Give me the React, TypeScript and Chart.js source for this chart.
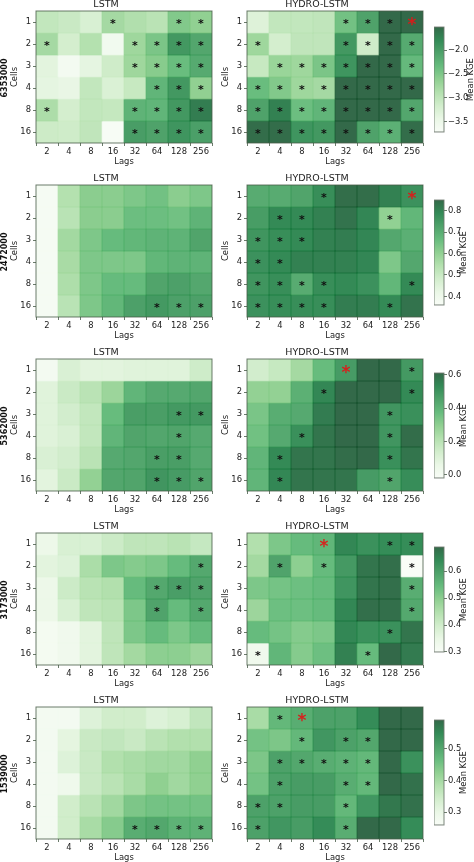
import React, { useEffect, useRef } from "react";
import { Chart, registerables } from "chart.js";

Chart.register(...registerables);

const lags = ["2", "4", "8", "16", "32", "64", "128", "256"];
const cells = ["1", "2", "3", "4", "8", "16"];

const stations = ["6353000", "2472000", "5362000", "3173000", "1539000"];
const metricLabels = ["Mean KGE", "Mean KGE", "Mean KGE", "Mean KGE", "Mean KGE"];
const colorMins = [-3.71, 0.36, -0.02, 0.3, 0.26];
const colorMaxs = [-1.52, 0.85, 0.61, 0.69, 0.59];
const colorTicks = [
  [-3.5, -3.0, -2.5, -2.0],
  [0.4, 0.5, 0.6, 0.7, 0.8],
  [0.0, 0.2, 0.4, 0.6],
  [0.3, 0.4, 0.5, 0.6],
  [0.3, 0.4, 0.5],
];

const lstm6353000 = [
  [-3.12, -3.18, -3.32, -2.88, -2.97, -3.05, -2.62, -2.72],
  [-2.88, -3.27, -2.99, -3.62, -2.83, -2.57, -2.0, -2.18],
  [-3.43, -3.64, -3.45, -3.23, -2.83, -2.66, -2.44, -2.22],
  [-3.45, -3.49, -3.12, -3.34, -3.16, -2.35, -2.0, -2.72],
  [-2.94, -3.27, -3.12, -3.14, -2.33, -2.35, -2.0, -1.7],
  [-3.21, -3.23, -3.1, -3.69, -2.07, -2.13, -1.96, -2.09],
];
const hydro6353000 = [
  [-3.38, -3.12, -3.12, -3.1, -2.51, -2.13, -1.52, -1.52],
  [-2.83, -3.27, -3.1, -3.1, -2.0, -3.23, -1.52, -2.22],
  [-3.16, -2.79, -2.83, -2.57, -1.96, -1.52, -1.52, -2.4],
  [-2.44, -2.62, -2.83, -2.88, -1.52, -1.52, -1.52, -1.52],
  [-2.13, -1.74, -2.46, -2.35, -1.52, -1.52, -1.52, -2.18],
  [-1.56, -1.56, -1.96, -2.0, -1.52, -2.13, -2.29, -1.56],
];
const lstm2472000 = [
  [0.37, 0.52, 0.59, 0.59, 0.61, 0.63, 0.59, 0.61],
  [0.37, 0.51, 0.59, 0.59, 0.64, 0.64, 0.63, 0.67],
  [0.37, 0.55, 0.61, 0.65, 0.66, 0.67, 0.67, 0.71],
  [0.37, 0.54, 0.61, 0.61, 0.61, 0.66, 0.67, 0.67],
  [0.37, 0.53, 0.61, 0.65, 0.65, 0.71, 0.72, 0.7],
  [0.37, 0.51, 0.61, 0.66, 0.72, 0.74, 0.72, 0.72],
];
const hydro2472000 = [
  [0.69, 0.69, 0.71, 0.77, 0.84, 0.84, 0.8, 0.76],
  [0.73, 0.78, 0.78, 0.8, 0.83, 0.79, 0.58, 0.66],
  [0.75, 0.77, 0.78, 0.8, 0.81, 0.79, 0.7, 0.68],
  [0.76, 0.78, 0.8, 0.8, 0.8, 0.79, 0.61, 0.7],
  [0.75, 0.77, 0.69, 0.77, 0.78, 0.76, 0.66, 0.78],
  [0.76, 0.77, 0.77, 0.77, 0.81, 0.81, 0.78, 0.83],
];
const lstm5362000 = [
  [0.0, 0.09, 0.06, 0.06, 0.07, 0.07, 0.07, 0.12],
  [0.07, 0.13, 0.17, 0.24, 0.37, 0.41, 0.41, 0.42],
  [0.07, 0.11, 0.15, 0.35, 0.45, 0.45, 0.47, 0.47],
  [0.07, 0.09, 0.15, 0.37, 0.43, 0.42, 0.43, 0.41],
  [0.09, 0.11, 0.17, 0.41, 0.42, 0.45, 0.45, 0.41],
  [0.06, 0.13, 0.26, 0.42, 0.43, 0.48, 0.46, 0.43],
];
const hydro5362000 = [
  [0.11, 0.14, 0.22, 0.35, 0.46, 0.61, 0.61, 0.47],
  [0.26, 0.26, 0.39, 0.53, 0.61, 0.61, 0.61, 0.52],
  [0.31, 0.4, 0.41, 0.56, 0.61, 0.61, 0.48, 0.5],
  [0.33, 0.41, 0.5, 0.58, 0.61, 0.61, 0.48, 0.6],
  [0.37, 0.52, 0.58, 0.58, 0.6, 0.61, 0.5, 0.58],
  [0.37, 0.53, 0.58, 0.58, 0.58, 0.46, 0.43, 0.51],
];
const lstm3173000 = [
  [0.33, 0.37, 0.37, 0.39, 0.41, 0.41, 0.42, 0.4],
  [0.35, 0.36, 0.44, 0.5, 0.49, 0.5, 0.53, 0.57],
  [0.33, 0.39, 0.42, 0.43, 0.53, 0.57, 0.59, 0.58],
  [0.33, 0.37, 0.41, 0.42, 0.5, 0.58, 0.53, 0.57],
  [0.31, 0.32, 0.35, 0.41, 0.5, 0.53, 0.5, 0.53],
  [0.31, 0.32, 0.35, 0.41, 0.45, 0.48, 0.48, 0.46],
];
const hydro3173000 = [
  [0.43, 0.5, 0.53, 0.54, 0.64, 0.62, 0.63, 0.63],
  [0.45, 0.58, 0.48, 0.53, 0.6, 0.67, 0.68, 0.3],
  [0.5, 0.51, 0.52, 0.53, 0.61, 0.67, 0.68, 0.56],
  [0.46, 0.52, 0.52, 0.53, 0.64, 0.68, 0.68, 0.57],
  [0.53, 0.51, 0.49, 0.5, 0.64, 0.62, 0.62, 0.67],
  [0.32, 0.54, 0.49, 0.52, 0.65, 0.53, 0.69, 0.66],
];
const lstm1539000 = [
  [0.27, 0.27, 0.31, 0.33, 0.33, 0.31, 0.32, 0.35],
  [0.27, 0.3, 0.34, 0.35, 0.34, 0.36, 0.37, 0.37],
  [0.27, 0.31, 0.34, 0.37, 0.38, 0.39, 0.39, 0.41],
  [0.27, 0.28, 0.34, 0.36, 0.38, 0.41, 0.39, 0.41],
  [0.27, 0.33, 0.36, 0.39, 0.43, 0.44, 0.44, 0.44],
  [0.27, 0.33, 0.38, 0.42, 0.48, 0.49, 0.47, 0.47],
];
const hydro1539000 = [
  [0.38, 0.46, 0.48, 0.5, 0.5, 0.54, 0.59, 0.59],
  [0.44, 0.43, 0.46, 0.52, 0.5, 0.49, 0.59, 0.59],
  [0.43, 0.5, 0.49, 0.48, 0.47, 0.46, 0.59, 0.53],
  [0.44, 0.5, 0.51, 0.51, 0.48, 0.46, 0.59, 0.58],
  [0.5, 0.5, 0.51, 0.51, 0.46, 0.52, 0.57, 0.58],
  [0.5, 0.52, 0.51, 0.54, 0.48, 0.59, 0.59, 0.54],
];

// significant cells: per row, the lag columns carrying an asterisk
const starsLstm = [
  [[3, 6, 7], [0, 4, 5, 6, 7], [4, 5, 6, 7], [5, 6, 7], [0, 4, 5, 6, 7], [4, 5, 6, 7]],
  [[], [], [], [], [], [5, 6, 7]],
  [[], [], [6, 7], [6], [5, 6], [5, 6, 7]],
  [[], [7], [5, 6, 7], [5, 7], [], []],
  [[], [], [], [], [], [4, 5, 6, 7]],
];
const starsHydro = [
  [[4, 5, 6], [0, 4, 5, 6, 7], [1, 2, 3, 4, 5, 6, 7], [0, 1, 2, 3, 4, 5, 6, 7], [0, 1, 2, 3, 4, 5, 6, 7], [0, 1, 2, 3, 4, 5, 6, 7]],
  [[3], [1, 2, 6], [0, 1, 2], [0, 1], [0, 1, 2, 3, 7], [0, 1, 2, 3, 6]],
  [[7], [3, 7], [6], [2, 6], [1, 6], [1, 6]],
  [[6, 7], [1, 3, 7], [7], [7], [6], [0, 5]],
  [[1], [2, 4, 5], [1, 2, 3, 4, 5], [1, 4, 5], [0, 1, 4], [0, 4]],
];
// best configuration [column, row], drawn in red
const bestHydro = [[7, 0], [7, 0], [4, 0], [3, 0], [2, 0]];

const valuesLstm = [lstm6353000, lstm2472000, lstm5362000, lstm3173000, lstm1539000];
const valuesHydro = [hydro6353000, hydro2472000, hydro5362000, hydro3173000, hydro1539000];

const plotTops = [11, 185, 359, 533, 707];
const barTops = [27, 200, 373, 547, 720];

const FONT = "'DejaVu Sans'";
const TEXT = "#222222";
const TICK_SIZE = 8.4;
const EDGE = "rgba(70,90,70,0.8)";
const greens = [
  [247, 252, 245], [229, 245, 224], [199, 233, 192], [161, 217, 155], [116, 196, 118],
  [65, 171, 93], [35, 139, 69], [0, 109, 44], [0, 68, 27],
];
const ALPHA = 0.8;
const CELL_TONE = 0.88;

function ramp(t: number) {
  const p = Math.max(0, Math.min(1, t)) * (greens.length - 1);
  const i = Math.min(greens.length - 2, Math.floor(p));
  const f = p - i;
  const c = greens[i].map((v, k) => Math.round(v + (greens[i + 1][k] - v) * f));
  return `rgba(${c[0]},${c[1]},${c[2]},${ALPHA})`;
}

function makeHeatmap(
  canvas: HTMLCanvasElement,
  title: string,
  values: number[][],
  vmin: number,
  vmax: number,
  stars: number[][],
  best: number[] | null,
  station: string | null
) {
  const overlay = {
    id: "overlay",
    afterDatasetsDraw(chart: any) {
      const { ctx, chartArea: a, scales } = chart;
      ctx.save();
      ctx.strokeStyle = EDGE;
      ctx.lineWidth = 1;
      ctx.strokeRect(a.left, a.top, a.right - a.left, a.bottom - a.top);
      ctx.textAlign = "center";
      ctx.textBaseline = "alphabetic";
      const glyph = (col: number, row: number, size: number, color: string) => {
        ctx.font = `bold ${size}px ${FONT}`;
        ctx.fillStyle = color;
        ctx.fillText(
          "*",
          scales.x.getPixelForValue(col),
          scales.y.getPixelForValue(row + 0.5) - 1 + size * 0.5
        );
      };
      stars.forEach((cols, row) => cols.forEach((col) => glyph(col, row, 11, "#111111")));
      if (best) glyph(best[0], best[1], 17, "rgba(222,24,24,0.92)");
      if (station) {
        ctx.translate(4.5, (a.top + a.bottom) / 2 + 1);
        ctx.rotate(-Math.PI / 2);
        ctx.font = `bold 8px ${FONT}`;
        ctx.fillStyle = "#111111";
        ctx.textBaseline = "middle";
        ctx.fillText(station, 0, 0);
      }
      ctx.restore();
    },
  };

  return new Chart(canvas, {
    type: "bar",
    data: {
      labels: lags,
      datasets: cells.map((_, r) => ({
        data: lags.map(() => [r, r + 1]),
        backgroundColor: values[r].map((v) =>
          ramp(Math.pow(Math.max(0, (v - vmin) / (vmax - vmin)), CELL_TONE))
        ),
        borderWidth: 0,
        barPercentage: 1,
        categoryPercentage: 1,
        grouped: false,
      })),
    } as any,
    options: {
      animation: false,
      responsive: false,
      maintainAspectRatio: false,
      layout: { padding: { right: 4 } },
      plugins: {
        legend: { display: false },
        tooltip: { enabled: false },
        title: {
          display: true,
          text: title,
          color: TEXT,
          font: { family: FONT, size: 9.5, weight: "normal", lineHeight: 1 },
          padding: { top: 0.5, bottom: 2 },
        },
      },
      scales: {
        x: {
          type: "category",
          offset: true,
          border: { display: false },
          grid: { display: true, drawOnChartArea: false, drawTicks: true, tickLength: 3, color: EDGE },
          ticks: { autoSkip: false, maxRotation: 0, color: TEXT, padding: 1, font: { family: FONT, size: TICK_SIZE } },
          title: {
            display: true,
            text: "Lags",
            color: TEXT,
            font: { family: FONT, size: TICK_SIZE },
            padding: 0,
          },
          afterFit: (s: any) => {
            s.height = 24;
          },
        },
        y: {
          type: "linear",
          reverse: true,
          min: 0,
          max: cells.length,
          border: { display: false },
          grid: { display: true, drawOnChartArea: false, drawTicks: true, tickLength: 3, color: EDGE },
          afterBuildTicks: (s: any) => {
            s.ticks = cells.map((_, i) => ({ value: i + 0.5 }));
          },
          ticks: {
            autoSkip: false,
            color: TEXT,
            padding: 2,
            font: { family: FONT, size: TICK_SIZE },
            callback: (v: any) => cells[Math.floor(Number(v))],
          },
          title: {
            display: true,
            text: "Cells",
            color: TEXT,
            font: { family: FONT, size: TICK_SIZE },
            padding: { top: 10, bottom: 0 },
          },
          afterFit: (s: any) => {
            s.width = 36;
          },
        },
      },
    } as any,
    plugins: [overlay],
  } as any);
}

function makeColorbar(
  canvas: HTMLCanvasElement,
  vmin: number,
  vmax: number,
  ticks: number[],
  label: string,
  labelX: number
) {
  const overlay = {
    id: "barOverlay",
    afterDatasetsDraw(chart: any) {
      const { ctx, chartArea: a } = chart;
      ctx.save();
      ctx.strokeStyle = "rgba(110,120,110,0.9)";
      ctx.lineWidth = 1;
      ctx.strokeRect(a.left, a.top, a.right - a.left, a.bottom - a.top);
      ctx.translate(labelX, (a.top + a.bottom) / 2);
      ctx.rotate(-Math.PI / 2);
      ctx.font = `${TICK_SIZE}px ${FONT}`;
      ctx.fillStyle = TEXT;
      ctx.textAlign = "center";
      ctx.textBaseline = "middle";
      ctx.fillText(label, 0, 0);
      ctx.restore();
    },
  };
  return new Chart(canvas, {
    type: "bar",
    data: {
      labels: ["colorbar"],
      datasets: [
        {
          data: [[vmin, vmax]],
          borderWidth: 0,
          barPercentage: 1,
          categoryPercentage: 1,
          backgroundColor: (c: any) => {
            const a = c.chart.chartArea;
            if (!a) return ramp(0.5);
            const g = c.chart.ctx.createLinearGradient(0, a.bottom, 0, a.top);
            greens.forEach((_, i) => {
              const t = i / (greens.length - 1);
              g.addColorStop(t, ramp(t));
            });
            return g;
          },
        },
      ],
    } as any,
    options: {
      animation: false,
      responsive: false,
      maintainAspectRatio: false,
      layout: { padding: { top: 6, bottom: 6 } },
      plugins: { legend: { display: false }, tooltip: { enabled: false } },
      scales: {
        x: { display: false, offset: true },
        y: {
          position: "right",
          min: vmin,
          max: vmax,
          border: { display: false },
          grid: { display: true, drawOnChartArea: false, drawTicks: true, tickLength: 3, color: EDGE },
          afterBuildTicks: (s: any) => {
            s.ticks = ticks.map((value) => ({ value }));
          },
          ticks: {
            autoSkip: false,
            color: TEXT,
            padding: 1,
            font: { family: FONT, size: TICK_SIZE },
            callback: (v: any) => Number(v).toFixed(1).replace("-", "\u2212"),
          },
          afterFit: (s: any) => {
            s.width = 30;
          },
        },
      },
    } as any,
    plugins: [overlay],
  } as any);
}

export default function App() {
  const root = useRef<HTMLDivElement>(null);

  useEffect(() => {
    const host = root.current!;
    const charts: Chart[] = [];
    const addCanvas = (left: number, top: number, width: number, height: number) => {
      const c = document.createElement("canvas");
      c.width = width;
      c.height = height;
      c.style.position = "absolute";
      c.style.left = `${left}px`;
      c.style.top = `${top}px`;
      host.appendChild(c);
      return c;
    };
    stations.forEach((station, i) => {
      const top = plotTops[i] - 12;
      charts.push(
        makeHeatmap(addCanvas(0, top, 216, 168), "LSTM", valuesLstm[i], colorMins[i], colorMaxs[i], starsLstm[i], null, station)
      );
      charts.push(
        makeHeatmap(addCanvas(211, top, 216, 168), "HYDRO-LSTM", valuesHydro[i], colorMins[i], colorMaxs[i], starsHydro[i], bestHydro[i], null)
      );
      charts.push(
        makeColorbar(addCanvas(434, barTops[i] - 6, 40, 117), colorMins[i], colorMaxs[i], colorTicks[i], metricLabels[i], i === 0 ? 36.5 : 30)
      );
    });
    return () => {
      charts.forEach((c) => c.destroy());
      while (host.firstChild) host.removeChild(host.firstChild);
    };
  }, []);

  return (
    <div
      ref={root}
      style={{ position: "absolute", left: 0, top: 0, width: 474, height: 862, overflow: "hidden", background: "#ffffff", filter: "blur(0.3px)" }}
    />
  );
}
